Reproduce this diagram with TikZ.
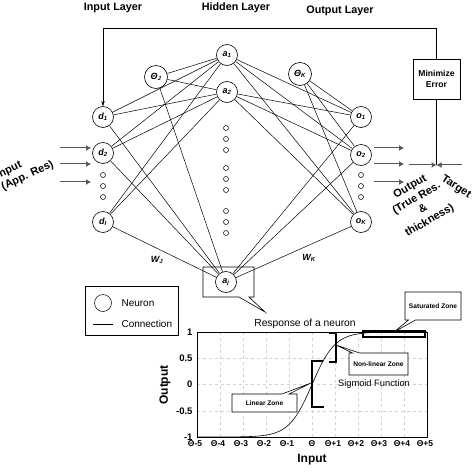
\documentclass[tikz,border=0pt]{standalone}
\usepackage{fontspec}
\setmainfont{Liberation Sans}
\usetikzlibrary{arrows.meta,shapes.callouts,positioning,calc}

\begin{document}
\begin{tikzpicture}[x=1pt,y=-1pt,
    neuron/.style={circle,draw,line width=0.6pt,minimum size=21pt,inner sep=0pt,fill=white,
        font=\bfseries\itshape\fontsize{9}{9}\selectfont},
    tinydot/.style={circle,draw,line width=0.5pt,minimum size=5pt,inner sep=0pt},
    link/.style={line width=0.5pt},
    layertitle/.style={font=\bfseries\fontsize{10.8}{11}\selectfont},
    pipe/.style={line width=2.6pt,draw=black!65,-{Latex[length=5pt,width=6pt]},
        postaction={draw=white,line width=0.9pt,shorten >=5pt,-}},
    zonebox/.style={rectangle callout,draw,line width=0.6pt,fill=white,inner sep=0pt,
        callout pointer width=7pt,font=\bfseries\fontsize{6.6}{7}\selectfont},
    bracket/.style={line width=1.6pt}]

    \useasboundingbox (0,0) rectangle (474,474);

    % Layer titles
    \node[layertitle] (tin) at (113,7.5) {Input Layer};
    \node[layertitle] (thid) at (236,7.5) {Hidden Layer};
    \node[layertitle] (tout) at (340,11) {Output Layer};

    % Neurons
    \node[neuron] (d1) at (103,117) {d\textsubscript{1}};
    \node[neuron] (d2) at (103,153) {d\textsubscript{2}};
    \node[neuron] (dI) at (103,222) {d\textsubscript{I}};
    \node[neuron,minimum size=23pt] (thJ) at (156,77) {Θ\textsubscript{J}};
    \node[neuron] (a1) at (227,55) {a\textsubscript{1}};
    \node[neuron] (a2) at (227,92) {a\textsubscript{2}};
    \node[neuron,minimum size=23pt] (thK) at (300,74) {Θ\textsubscript{K}};
    \node[neuron] (o1) at (361,117) {o\textsubscript{1}};
    \node[neuron] (o2) at (361,155) {o\textsubscript{2}};
    \node[neuron] (oK) at (361,222) {o\textsubscript{K}};

    % Box round the hidden neuron j
    \node[rectangle callout,draw,line width=0.6pt,minimum width=51pt,minimum height=30pt,
        callout pointer width=10pt,callout absolute pointer={(265,312)}] (zoomj) at (228.5,282) {};
    \node[neuron] (aJ) at (226,282) {a\textsubscript{j}};

    % Dots between neurons
    \foreach \y in {175,186,197} {
        \node[tinydot] (din\y) at (103,\y) {};
        \node[tinydot] (dout\y) at (361,\y) {};
    }
    \foreach \y in {128,139,150,168,179,190,211,222,233}
        \node[tinydot] (dhid\y) at (226,\y) {};

    % Connections
    \foreach \s in {d1,d2,dI,thJ}
        \foreach \t in {a1,a2,aJ}
            \draw[link] (\s) -- (\t);
    \foreach \s in {a1,a2,aJ,thK}
        \foreach \t in {o1,o2,oK}
            \draw[link] (\s) -- (\t);

    \node[font=\bfseries\itshape\fontsize{9}{9}\selectfont] (wJ) at (157,260) {W\textsubscript{J}};
    \node[font=\bfseries\itshape\fontsize{9}{9}\selectfont] (wK) at (309,258) {W\textsubscript{K}};

    % Error feedback
    \node[draw,line width=0.6pt,minimum width=47pt,minimum height=40pt,align=center,
        font=\bfseries\fontsize{8.6}{10.5}\selectfont] (err) at (436.5,79) {Minimize\\Error};
    \coordinate (tgt) at (436.5,165);
    \coordinate (tgtL) at (409,165);
    \coordinate (tgtR) at (462,165);
    \draw[link,-{Stealth[length=5pt,width=3.5pt]}] (err.north) -- ++(0,-30) -| (d1.north);
    \draw[link] (err.south) -- (tgt);
    \draw[pipe] (tgtR) -- (tgt);
    \draw[pipe] (tgtL) -- (tgt);

    % Inputs and outputs
    \foreach \y in {148,164,182} {
        \coordinate (inS\y) at (60,\y);
        \coordinate (inE\y) at (91,\y);
        \draw[pipe] (inS\y) -- (inE\y);
        \coordinate (outS\y) at (374,\y);
        \coordinate (outE\y) at (404,\y);
        \draw[pipe] (outS\y) -- (outE\y);
    }
    \node[rotate=25,align=left,font=\bfseries\fontsize{11}{13}\selectfont] (inlab) at (25,170) {Input\\(App. Res)};
    \node[rotate=30,align=center,font=\bfseries\fontsize{11}{13}\selectfont] (outlab) at (420,204)
        {Output\\(True Res.\\\&\\thickness)};
    \node[rotate=-33,font=\bfseries\fontsize{11}{13}\selectfont] (tgtlab) at (456,187) {Target};

    % Legend
    \node[draw,line width=0.6pt,minimum width=93pt,minimum height=49pt] (legend) at (131.5,310.5) {};
    \node[circle,draw,line width=0.5pt,minimum size=17pt,inner sep=0pt] (legn) at (103,303) {};
    \node[anchor=west,font=\fontsize{10}{10}\selectfont] (legnt) at (118,303) {Neuron};
    \coordinate (legc1) at (93,324);
    \coordinate (legc2) at (113,324);
    \draw[link] (legc1) -- (legc2);
    \node[anchor=west,font=\fontsize{10}{10}\selectfont] (legct) at (118,324) {Connection};

    % Response of a neuron
    \foreach \t in {-4,...,4}
        \draw[gray!35,dash pattern=on 3pt off 3pt] ({312+23*\t},332) -- ({312+23*\t},437);
    \foreach \v in {0.5,0,-0.5}
        \draw[gray!35,dash pattern=on 3pt off 3pt] (197,{384.5-52.5*\v}) -- (427,{384.5-52.5*\v});
    \draw[line width=0.6pt] (197,332) rectangle (427,437);
    \draw[line width=0.6pt,domain=-5:5,samples=120] plot ({312+23*\x},{384.5-52.5*tanh(\x)});

    \foreach \v in {1,0.5,0,-0.5,-1}
        \node[anchor=east,font=\bfseries\fontsize{9.5}{10}\selectfont] at (196,{384.5-52.5*\v}) {\v};
    \foreach \t in {-5,...,-1}
        \node[font=\bfseries\fontsize{8.5}{9}\selectfont] at ({310+23*\t},444) {Θ\t};
    \node[font=\bfseries\fontsize{8.5}{9}\selectfont] at (312,444) {Θ};
    \foreach \t in {1,...,5}
        \node[font=\bfseries\fontsize{8.5}{9}\selectfont] at ({310+23*\t},444) {Θ+\t};

    \node[font=\fontsize{10.3}{11}\selectfont] (ptitle) at (305,324) {Response of a neuron};
    \node[font=\bfseries\fontsize{12}{12}\selectfont] (xlab) at (312,460) {Input};
    \node[rotate=90,font=\bfseries\fontsize{12}{12}\selectfont] (ylab) at (165,385) {Output};
    \node[font=\fontsize{9.3}{10}\selectfont] (sigm) at (374,384) {Sigmoid Function};

    % Zones
    \draw[bracket] (323,361) -- (312,361) -- (312,407) -- (324,407);
    \draw[bracket] (329,333) -- (336,333) -- (336,362) -- (329,362);
    \draw[bracket] (363,331) rectangle (425,337);
    \node[zonebox,minimum width=65pt,minimum height=18pt,callout absolute pointer={(311,383)}] (linz) at (264.5,403) {Linear Zone};
    \node[zonebox,minimum width=59pt,minimum height=22pt,callout absolute pointer={(336,345)}] (nlinz) at (378.5,364) {Non-linear Zone};
    \node[zonebox,minimum width=56pt,minimum height=28pt,callout absolute pointer={(394,332)}] (satz) at (433,306) {Saturated Zone};
\end{tikzpicture}
\end{document}
